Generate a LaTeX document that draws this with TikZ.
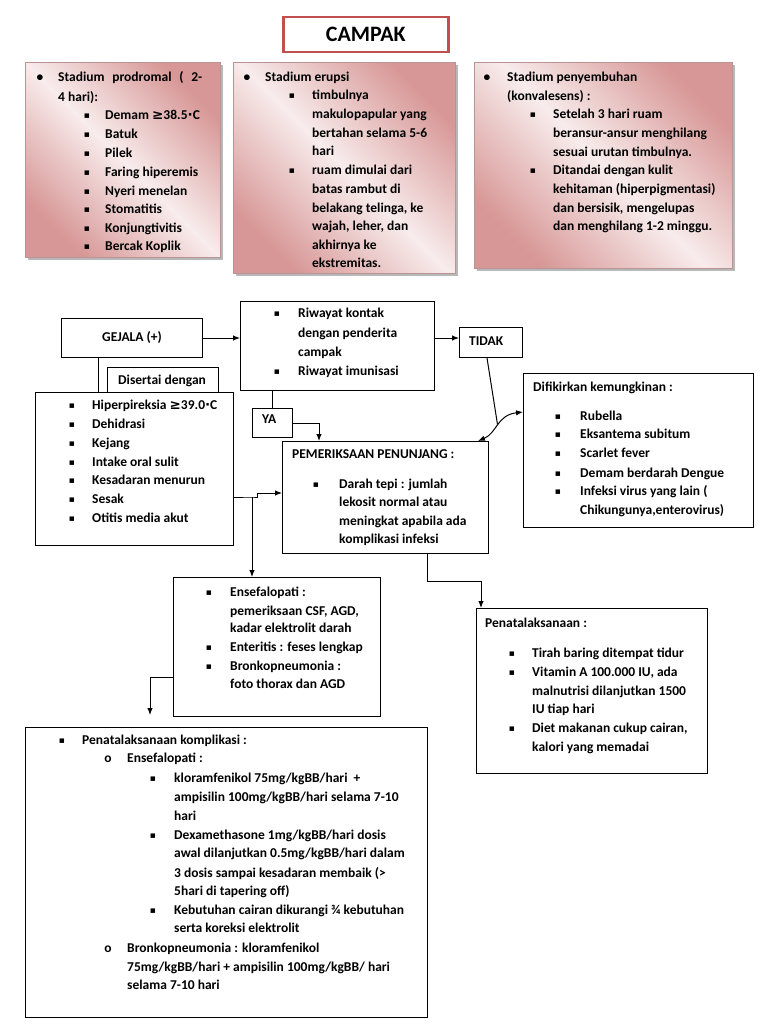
\documentclass[tikz,border=0pt]{standalone}
\usepackage{fontspec}
\setmainfont{Carlito}
\newfontfamily\symf{DejaVu Sans}
\usetikzlibrary{arrows.meta}
\definecolor{rosedark}{HTML}{D79796}
\definecolor{roselight}{HTML}{F8ECEC}
\definecolor{roseedge}{HTML}{B89494}
\definecolor{titlered}{HTML}{C0504D}
\newcount\tlnum
\newcommand\tline[3]{\global\advance\tlnum by 1 \node[txt] (t\the\tlnum) at (#1,#2+4.5) {#3};}
\newcommand\bline[3]{\global\advance\tlnum by 1 \node[bul] (t\the\tlnum) at (#1,#2+4.5) {#3};}
\newcommand\sqm{{\symf\fontsize{9}{9}\selectfont\raisebox{0.6pt}{▪}}}
\newcommand\gem{{\symf ≥}}
\newcommand\degm{{\symf ∙}}
\tikzset{
  txt/.style={anchor=base west, inner sep=0pt, font=\fontsize{13.5}{16}\selectfont\bfseries},
  bul/.style={anchor=base, inner sep=0pt, font=\fontsize{13.5}{16}\selectfont\bfseries},
  fbox/.style={draw=black, line width=1pt, fill=white, anchor=north west, inner sep=0pt},
  stage/.style={draw=roseedge, line width=0.6pt, anchor=north west, inner sep=0pt,
     top color=rosedark, bottom color=rosedark, middle color=roselight, shading angle=-45},
  shade box/.style={fill=black!28},
  conn/.style={line width=1pt},
  arr/.style={conn, -{Latex[length=7pt,width=5.5pt]}},
  dblarr/.style={conn, {Latex[length=7pt,width=5.5pt]}-{Latex[length=7pt,width=5.5pt]}},
}
\begin{document}
\begin{tikzpicture}[x=1pt,y=-1pt]
\useasboundingbox[fill=white] (0,0) rectangle (768,1024);

% title
\node[draw=titlered, line width=2.5pt, minimum width=165pt, minimum height=35pt, anchor=north west,
  inner sep=0pt, fill=white, font=\bfseries\fontsize{22}{24}\selectfont] (title) at (282,16) {CAMPAK};

% stage boxes with shadows
\fill[shade box] (28,65) rectangle (223,260);
\node[stage, minimum width=195pt, minimum height=195pt] (s1) at (25,62) {};
\fill[shade box] (236,65) rectangle (458,276);
\node[stage, minimum width=222pt, minimum height=211pt] (s2) at (233,62) {};
\fill[shade box] (477,65) rectangle (735,271);
\node[stage, minimum width=258pt, minimum height=206pt] (s3) at (474,62) {};

% box 1 text
\bline{40}{77}{•}
\tline{58}{77}{\makebox[144pt][s]{Stadium prodromal ( 2-}}
\tline{58}{97}{4 hari):}
\bline{87}{115}{\sqm}\tline{105}{115}{Demam \gem38.5\degm C}
\bline{87}{134}{\sqm}\tline{105}{134}{Batuk}
\bline{87}{153}{\sqm}\tline{105}{153}{Pilek}
\bline{87}{172}{\sqm}\tline{105}{172}{Faring hiperemis}
\bline{87}{191}{\sqm}\tline{105}{191}{Nyeri menelan}
\bline{87}{209}{\sqm}\tline{105}{209}{Stomatitis}
\bline{87}{228}{\sqm}\tline{105}{228}{Konjungtivitis}
\bline{87}{246}{\sqm}\tline{105}{246}{Bercak Koplik}

% box 2 text
\bline{247}{77}{•}
\tline{265}{77}{Stadium erupsi}
\bline{292}{95}{\sqm}\tline{312}{95}{timbulnya}
\tline{312}{114}{makulopapular yang}
\tline{312}{133}{bertahan selama 5-6}
\tline{312}{151}{hari}
\bline{292}{170}{\sqm}\tline{312}{170}{ruam dimulai dari}
\tline{312}{189}{batas rambut di}
\tline{312}{208}{belakang telinga, ke}
\tline{312}{226}{wajah, leher, dan}
\tline{312}{245}{akhirnya ke}
\tline{312}{263}{ekstremitas.}

% box 3 text
\bline{487}{77}{•}
\tline{507}{77}{Stadium penyembuhan}
\tline{507}{96}{(konvalesens) :}
\bline{533}{114}{\sqm}\tline{553}{114}{Setelah 3 hari ruam}
\tline{553}{133}{beransur-ansur menghilang}
\tline{553}{152}{sesuai urutan timbulnya.}
\bline{533}{170}{\sqm}\tline{553}{170}{Ditandai dengan kulit}
\tline{553}{189}{kehitaman (hiperpigmentasi)}
\tline{553}{208}{dan bersisik, mengelupas}
\tline{553}{226}{dan menghilang 1-2 minggu.}

% flowchart boxes
\node[fbox, minimum width=141pt, minimum height=39pt, font=\fontsize{13.5}{16}\selectfont\bfseries] (gejala) at (61,318) {GEJALA (+)};
\node[fbox, minimum width=194pt, minimum height=89pt] (riwayat) at (240,301) {};
\node[fbox, minimum width=63pt, minimum height=30pt] (tidak) at (459,327) {};
\node[fbox, minimum width=111pt, minimum height=30pt] (disertai) at (107,367) {};
\node[txt] (tdis) at (118,384.5) {Disertai dengan};
\node[fbox, minimum width=198pt, minimum height=153pt] (hip) at (35,392) {};
\node[fbox, minimum width=40pt, minimum height=29pt] (ya) at (252,408) {};
\node[fbox, minimum width=206pt, minimum height=112pt] (pem) at (282,441) {};
\node[fbox, minimum width=230pt, minimum height=154pt] (dif) at (523,373) {};
\node[fbox, minimum width=207pt, minimum height=139pt] (ens) at (173,577) {};
\node[fbox, minimum width=231pt, minimum height=165pt] (pena) at (476,608) {};
\node[fbox, minimum width=402pt, minimum height=290pt] (komp) at (25,727) {};

% riwayat text
\bline{277}{313}{\sqm}\tline{298}{313}{Riwayat kontak}
\tline{298}{333}{dengan penderita}
\tline{298}{352}{campak}
\bline{277}{371}{\sqm}\tline{298}{371}{Riwayat imunisasi}
% tidak, ya
\tline{469}{341}{TIDAK}
\tline{262}{419}{YA}
% hip text
\bline{72}{405}{\sqm}\tline{92}{405}{Hiperpireksia \gem39.0\degm C}
\bline{72}{424}{\sqm}\tline{92}{424}{Dehidrasi}
\bline{72}{443}{\sqm}\tline{92}{443}{Kejang}
\bline{72}{462}{\sqm}\tline{92}{462}{Intake oral sulit}
\bline{72}{480}{\sqm}\tline{92}{480}{Kesadaran menurun}
\bline{72}{499}{\sqm}\tline{92}{499}{Sesak}
\bline{72}{518}{\sqm}\tline{92}{518}{Otitis media akut}
% pem text
\tline{292}{454}{PEMERIKSAAN PENUNJANG :}
\bline{316}{484}{\sqm}\tline{339}{484}{Darah tepi : jumlah}
\tline{339}{502}{lekosit normal atau}
\tline{339}{521}{meningkat apabila ada}
\tline{339}{539}{komplikasi infeksi}
% dif text
\tline{533}{387}{Difikirkan kemungkinan :}
\bline{558}{416}{\sqm}\tline{580}{416}{Rubella}
\bline{558}{434}{\sqm}\tline{580}{434}{Eksantema subitum}
\bline{558}{453}{\sqm}\tline{580}{453}{Scarlet fever}
\bline{558}{473}{\sqm}\tline{580}{473}{Demam berdarah Dengue}
\bline{558}{491}{\sqm}\tline{580}{491}{Infeksi virus yang lain (}
\tline{580}{510}{Chikungunya,enterovirus)}
% ens text
\bline{209}{592}{\sqm}\tline{230}{592}{Ensefalopati :}
\tline{230}{611}{pemeriksaan CSF, AGD,}
\tline{230}{628}{kadar elektrolit darah}
\bline{209}{647}{\sqm}\tline{230}{647}{Enteritis : feses lengkap}
\bline{209}{666}{\sqm}\tline{230}{666}{Bronkopneumonia :}
\tline{230}{684}{foto thorax dan AGD}
% pena text
\tline{485}{623}{Penatalaksanaan :}
\bline{512}{653}{\sqm}\tline{532}{653}{Tirah baring ditempat tidur}
\bline{512}{672}{\sqm}\tline{532}{672}{Vitamin A 100.000 IU, ada}
\tline{532}{691}{malnutrisi dilanjutkan 1500}
\tline{532}{709}{IU tiap hari}
\bline{512}{728}{\sqm}\tline{532}{728}{Diet makanan cukup cairan,}
\tline{532}{747}{kalori yang memadai}
% komp text
\bline{62}{740}{\sqm}\tline{82}{740}{Penatalaksanaan komplikasi :}
\bline{108}{758}{o}\tline{127}{758}{Ensefalopati :}
\bline{153}{778}{\sqm}\tline{174}{778}{kloramfenikol 75mg/kgBB/hari \ +}
\tline{174}{797}{ampisilin 100mg/kgBB/hari selama 7-10}
\tline{174}{816}{hari}
\bline{153}{835}{\sqm}\tline{174}{835}{Dexamethasone 1mg/kgBB/hari dosis}
\tline{174}{853}{awal dilanjutkan 0.5mg/kgBB/hari dalam}
\tline{174}{873}{3 dosis sampai kesadaran membaik (>}
\tline{174}{891}{5hari di tapering off)}
\bline{153}{910}{\sqm}\tline{174}{910}{Kebutuhan cairan dikurangi ¾ kebutuhan}
\tline{174}{928}{serta koreksi elektrolit}
\bline{108}{948}{o}\tline{127}{948}{Bronkopneumonia : kloramfenikol}
\tline{127}{967}{75mg/kgBB/hari + ampisilin 100mg/kgBB/ hari}
\tline{127}{985}{selama 7-10 hari}

% connectors
\draw[arr] (gejala.east) -- (gejala.east -| riwayat.west);
\draw[arr] (riwayat.east |- gejala.east) -- (tidak.west |- gejala.east);
\draw[conn] ([xshift=37pt]gejala.south west) -- ([xshift=37pt]gejala.south west |- hip.north);
\draw[conn] ([xshift=32pt]riwayat.south west) -- ([xshift=32pt]riwayat.south west |- ya.north);
\draw[arr] (ya.east) -| ([xshift=37pt]pem.north west);
\coordinate (j1) at (252,497);
\coordinate (j2) at (257,493);
\draw[arr] (hip.east |- j1) -- (j1) -- (j1 -| j2) -- (j2) -- (j2 -| pem.west);
\draw[arr] (j1) -- (j1 |- ens.north);
\coordinate (k1) at (427,581);
\draw[arr] (pem.south -| k1) -- (k1) -| ([xshift=5pt]pena.north west);
\coordinate (k2) at (150,677);
\coordinate (k3) at (150,715);
\draw[arr] (ens.west |- k2) -- (k2) -- (k3);
\coordinate (dy) at (0,412);
\coordinate (cv) at (497.5,424.5);
\draw[dblarr] ([xshift=-11pt]pem.north east) .. controls (497,433) and (497,415) .. (dif.west |- dy);
\draw[conn] ([xshift=28pt]tidak.south west) -- (cv);
\end{tikzpicture}
\end{document}
